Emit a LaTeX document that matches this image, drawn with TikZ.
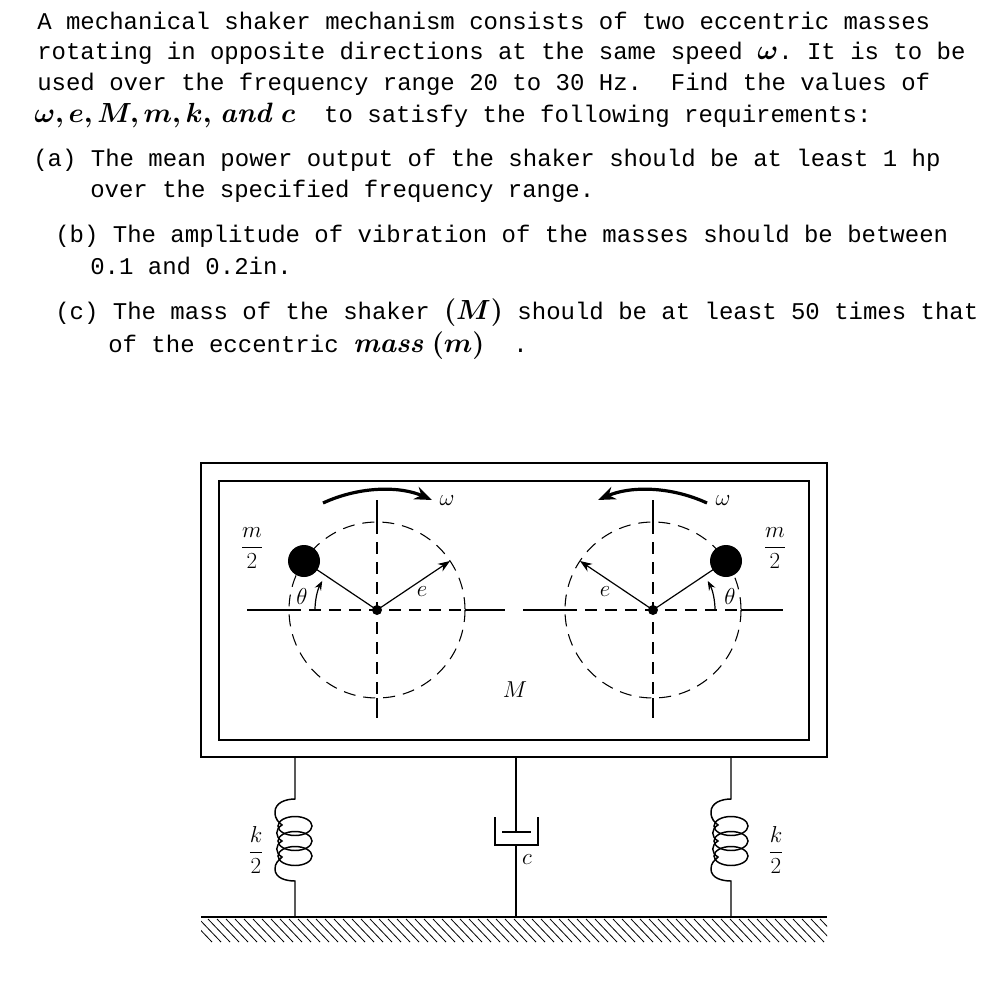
\documentclass[tikz,border=0pt]{standalone}
\usepackage{amsmath,bm}
\usepackage{fontspec}
\setmonofont{Liberation Mono}
\usetikzlibrary{arrows.meta}
\begin{document}
\begin{tikzpicture}[x=0.75pt,y=-0.75pt,
  txt/.style={anchor=west,inner sep=0pt,font=\fontsize{18}{20}\selectfont\ttfamily},
  mth/.style={},
  lab/.style={inner sep=0pt,font=\fontsize{19}{21}\selectfont},
  ax/.style={line width=0.8pt},
  dsh/.style={line width=0.8pt,dash pattern=on 9pt off 6pt},
  thick1/.style={line width=0.9pt}]
\useasboundingbox (0,0) rectangle (1000,1006);
% text
\node[txt] (t1) at (37,21) {A mechanical shaker mechanism consists of two eccentric masses};
\node[txt] (t2) at (37,53) {rotating in opposite directions at the same speed {\fontsize{21}{20}\selectfont$\bm{\omega}$}. It is to be};
\node[txt] (t3) at (37,84) {used over the frequency range 20 to 30 Hz.~ Find the values of};
\node[txt] (t4) at (34,115) {{\rmfamily\fontsize{21}{20}\selectfont$\bm{\omega,e,M,m,k,}$ \textbf{\textit{and}} $\bm{c}$}~ to satisfy the following requirements:};
\node[txt] (t5) at (33,160) {(a) The mean power output of the shaker should be at least 1 hp};
\node[txt] (t6) at (90,191) {over the specified frequency range.};
\node[txt] (t7) at (55,236) {(b) The amplitude of vibration of the masses should be between};
\node[txt] (t8) at (90,266) {0.1 and 0.2in.};
\node[txt] (t9) at (55,313) {(c) The mass of the shaker {\rmfamily\fontsize{21}{20}\selectfont$\bm{(M)}$} should be at least 50 times that};
\node[txt] (t10) at (108,346) {of the eccentric {\rmfamily\fontsize{21}{20}\selectfont\textbf{\textit{mass}} $\bm{(m)}$}~ .};
% boxes
\draw[thick1] (201,463) rectangle (827,757);
\draw[thick1] (219,481) rectangle (809,740);
% left circle
\coordinate (c1) at (377,610);
\draw[ax] (247,610) -- (289,610); \draw[ax] (465,610) -- (505,610);
\draw[dsh] (289,610) -- (465,610);
\draw[ax] (377,500) -- (377,522); \draw[ax] (377,698) -- (377,718);
\draw[dsh] (377,522) -- (377,698);
\draw[dsh] (c1) circle[radius=88];
\fill (c1) circle[radius=5];
\draw[thick1] (c1) -- (304,561);
\fill (304,561) circle[radius=16];
\draw[thick1,-{Stealth[length=9pt]}] (c1) -- (450,561);
\draw[thick1,-{Stealth[length=7pt]}] ([shift={(-62,0)}]c1) arc[start angle=180,end angle=208,radius=62];
\draw[line width=2.4pt,-{Stealth[length=13pt,width=10pt]}] (323,503) .. controls (360,486) and (400,486) .. (432,500);
\node[lab] (w1) at (447,501) {$\omega$};
\node[lab] (m1) at (252,548) {$\dfrac{m}{2}$};
\node[lab] (th1) at (302,596) {$\theta$};
\node[lab] (e1) at (422,592) {$e$};
% right circle
\coordinate (c2) at (653,610);
\draw[ax] (523,610) -- (565,610); \draw[ax] (741,610) -- (783,610);
\draw[dsh] (565,610) -- (741,610);
\draw[ax] (653,500) -- (653,522); \draw[ax] (653,698) -- (653,718);
\draw[dsh] (653,522) -- (653,698);
\draw[dsh] (c2) circle[radius=88];
\fill (c2) circle[radius=5];
\draw[thick1] (c2) -- (726,561);
\fill (726,561) circle[radius=16];
\draw[thick1,-{Stealth[length=9pt]}] (c2) -- (580,561);
\draw[thick1,-{Stealth[length=7pt]}] ([shift={(62,0)}]c2) arc[start angle=0,end angle=-28,radius=62];
\draw[line width=2.4pt,-{Stealth[length=13pt,width=10pt]}] (707,503) .. controls (670,486) and (630,486) .. (598,500);
\node[lab] (w2) at (723,501) {$\omega$};
\node[lab] (m2) at (775,548) {$\dfrac{m}{2}$};
\node[lab] (th2) at (730,596) {$\theta$};
\node[lab] (e2) at (605,592) {$e$};
\node[lab] (M) at (515,690) {$M$};
% ground
\draw[thick1] (201,917) -- (827,917);
\begin{scope}
\clip (201,918) rectangle (827,944);
\foreach \x in {190,199,...,830} \draw[line width=0.6pt] (\x,919) -- (\x+22,942);
\end{scope}
% springs
\foreach \sx/\nm in {295/L,731/R}{
  \draw[line width=1.1pt] (\sx,757) -- (\sx,799) to[out=180,in=90] (\sx-20,812)
    .. controls (\sx-20,820) and (\sx-16,822) .. (\sx-13,825)
    .. controls (\sx-20,829) and (\sx-20,837) .. (\sx-13,841)
    .. controls (\sx-20,845) and (\sx-20,853) .. (\sx-13,857)
    .. controls (\sx-17,861) and (\sx-20,863) .. (\sx-20,869)
    to[out=-90,in=180] (\sx,881) -- (\sx,917);
  \foreach \cy in {826,841,856} \draw[line width=1.1pt] (\sx,\cy) ellipse[x radius=17,y radius=9.5];
}
\node[lab] (k1) at (256,850) {$\dfrac{k}{2}$};
\node[lab] (k2) at (776,850) {$\dfrac{k}{2}$};
% damper
\draw[thick1] (516,757) -- (516,832);
\draw[thick1] (502,832) -- (531,832);
\draw[thick1] (495,817) -- (495,845) -- (538,845) -- (538,817);
\draw[thick1] (516,845) -- (516,917);
\node[lab] (c) at (527,860) {$c$};
\end{tikzpicture}
\end{document}
